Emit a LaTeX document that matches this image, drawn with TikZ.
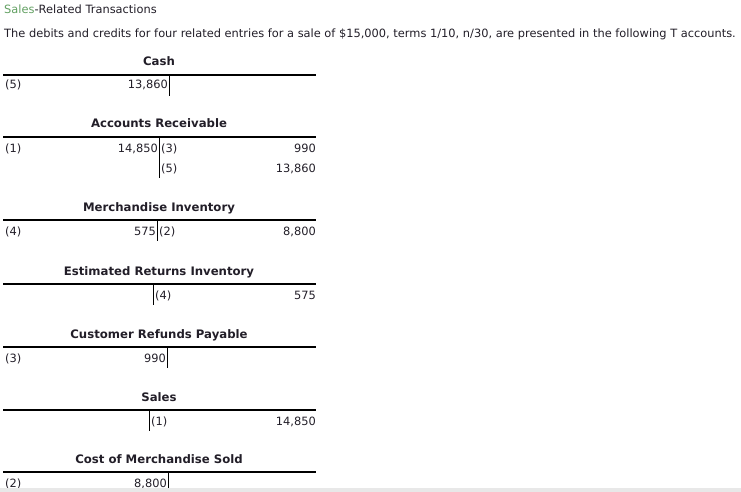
\documentclass[tikz,border=0pt]{standalone}
\usepackage{fontspec}
\setmainfont{DejaVu Sans}
\usepackage{xcolor}
\usetikzlibrary{positioning}

\definecolor{TitleGreen}{RGB}{98,160,98}
\definecolor{BodyText}{RGB}{34,30,40}

\begin{document}
\begin{tikzpicture}[
                    x=1pt, y=-1pt,
                    every node/.append style={font=\fontsize{11.4}{13}\selectfont, text=BodyText,
                                              inner sep=0pt, text height=8pt, text depth=2pt},
                    head/.style={font=\fontsize{11.7}{13}\selectfont\bfseries},
                    ref/.style={anchor=west},
                    amt/.style={anchor=east},
                    rule/.style={line width=1.1pt, black},
                    stem/.style={line width=0.9pt, black}
                    ]
\useasboundingbox (0,0) rectangle (741,492);

% page text
\node[anchor=west] (title) at (4,11) {\textcolor{TitleGreen}{Sales}-Related Transactions};
\node[anchor=west] (intro) at (4,35) {The debits and credits for four related entries for a sale of \$15,000, terms 1/10, n/30, are presented in the following T accounts.};

% T accounts: name/heading/rule y/stem x/stem end
\foreach \acc/\title/\ry/\vx/\vy in {
    cash/Cash/75/169/96,
    ar/Accounts Receivable/137/159/178,
    mi/Merchandise Inventory/220/157/241,
    eri/Estimated Returns Inventory/284/153/305,
    crp/Customer Refunds Payable/347/167/368,
    sales/Sales/410/149/431,
    cogs/Cost of Merchandise Sold/472/168/492}
{
  \node[head] (\acc) at (159,\ry-12) {\title};
  \coordinate (\acc-l)   at (3,\ry);
  \coordinate (\acc-r)   at (316,\ry);
  \coordinate (\acc-top) at (\vx,\ry);
  \coordinate (\acc-bot) at (\vx,\vy);
  \draw[rule] (\acc-l) -- (\acc-r);
  \draw[stem] (\acc-top) -- (\acc-bot);
}

% entries
\node[ref] (cash-d1)  at (5,86)    {(5)};
\node[amt] (cash-d1v) at (168,86)  {13,860};

\node[ref] (ar-d1)    at (5,149)   {(1)};
\node[amt] (ar-d1v)   at (158,149) {14,850};
\node[ref] (ar-c1)    at (161,149) {(3)};
\node[amt] (ar-c1v)   at (316,149) {990};
\node[ref] (ar-c2)    at (161,169) {(5)};
\node[amt] (ar-c2v)   at (316,169) {13,860};

\node[ref] (mi-d1)    at (5,232)   {(4)};
\node[amt] (mi-d1v)   at (156,232) {575};
\node[ref] (mi-c1)    at (159,232) {(2)};
\node[amt] (mi-c1v)   at (316,232) {8,800};

\node[ref] (eri-c1)   at (155,296) {(4)};
\node[amt] (eri-c1v)  at (316,296) {575};

\node[ref] (crp-d1)   at (5,359)   {(3)};
\node[amt] (crp-d1v)  at (166,359) {990};

\node[ref] (sales-c1) at (151,422) {(1)};
\node[amt] (sales-c1v) at (316,422) {14,850};

\node[ref] (cogs-d1)  at (5,484)   {(2)};
\node[amt] (cogs-d1v) at (167,484) {8,800};

% bottom edge of the page
\fill[gray!18] (0,488) rectangle (741,492);
\end{tikzpicture}
\end{document}
